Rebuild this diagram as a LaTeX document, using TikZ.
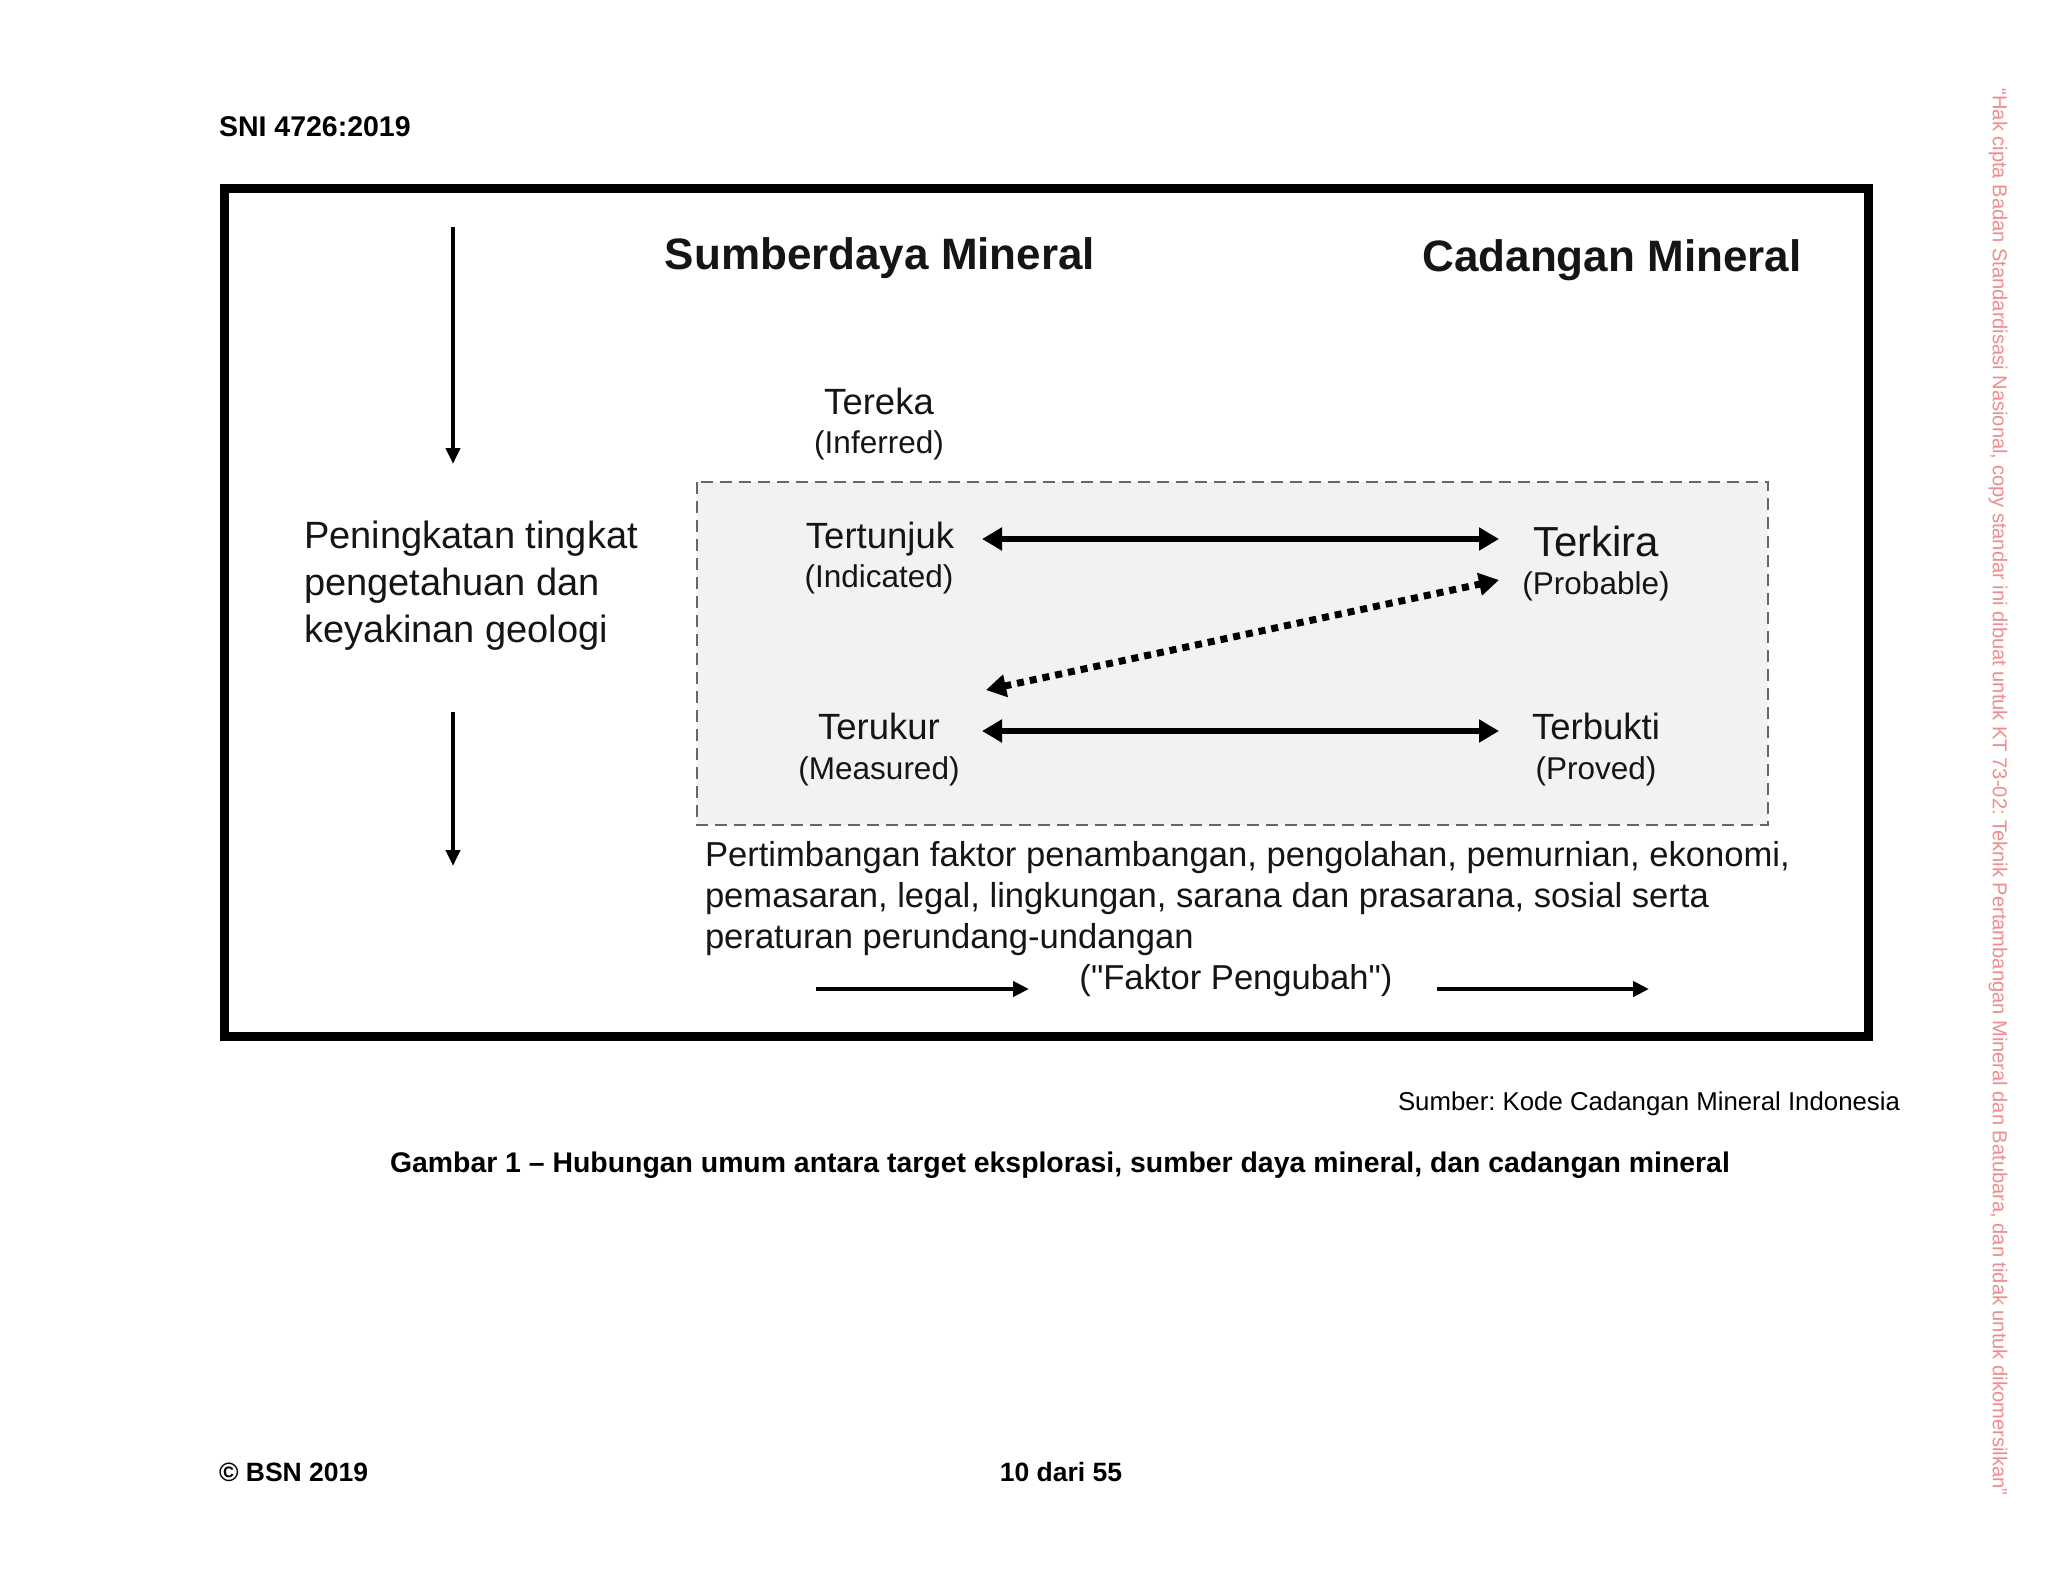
\documentclass[tikz,border=0pt]{standalone}
\usepackage{fontspec}
\setmainfont{Liberation Sans}
\newfontfamily\straightq{Liberation Sans}[Ligatures=TeXOff]
\usetikzlibrary{arrows.meta}
\frenchspacing
\definecolor{boxfill}{HTML}{F2F2F2}
\definecolor{boxline}{HTML}{666666}
\definecolor{wmark}{HTML}{F08C8C}
\definecolor{ink}{HTML}{151515}
\newcommand{\fs}[2]{\fontsize{#1}{#2}\selectfont}
\tikzset{
  txtbox/.style={inner sep=0pt,outer sep=0pt,text=ink},
  hdrtxt/.style={txtbox,font=\fs{26.5}{32}\bfseries,text=black},
  titletxt/.style={txtbox,font=\fs{44}{52}\bfseries},
  nametxt/.style={txtbox,font=\fs{36.5}{44}},
  subtxt/.style={txtbox,font=\fs{31.5}{38}},
  bodytxt/.style={txtbox,font=\fs{34.6}{41},align=left},
  vertarrow/.style={line width=4pt,-{Triangle[length=16pt,width=14pt]}},
  dblarrow/.style={line width=6.5pt,{Triangle[length=20pt,width=22pt]}-{Triangle[length=20pt,width=22pt]}},
  dotarrow/.style={line width=7pt,dash pattern=on 7pt off 6pt,{Triangle[length=20pt,width=22pt]}-{Triangle[length=20pt,width=22pt]}},
  sidearrow/.style={line width=4pt,-{Triangle[length=16pt,width=15pt]}}
}
\begin{document}
\begin{tikzpicture}[x=1pt,y=-1pt]
\useasboundingbox (0,0) rectangle (2048,1582);
\fill[white] (0,0) rectangle (2048,1582);

% header
\node[hdrtxt,font=\fs{28.5}{34}\bfseries,anchor=base west] (sni) at (219,136) {SNI 4726:2019};

% frame
\draw[line width=9pt] (224.5,188.5) rectangle (1868.5,1036.5);

% dashed grey region
\draw[boxline,fill=boxfill,line width=2pt,dash pattern=on 12pt off 7pt] (697,482) rectangle (1768,825);

% headings
\node[titletxt,anchor=base] (sdm) at (880,269) {Sumberdaya Mineral};
\node[titletxt,anchor=base] (cdm) at (1612,271) {Cadangan Mineral};

% left column
\coordinate (v1a) at (453,227);
\coordinate (v1b) at (453,464);
\coordinate (v2a) at (453,712);
\coordinate (v2b) at (453,866);
\draw[vertarrow] (v1a) -- (v1b);
\draw[vertarrow] (v2a) -- (v2b);
\node[txtbox,font=\fs{38}{47},align=left,anchor=north west] (pen) at (304,521)
  {Peningkatan tingkat\\pengetahuan dan\\keyakinan geologi};

% categories
\node[nametxt,anchor=base] (tereka) at (879,414) {Tereka};
\node[subtxt,anchor=base] (inf) at (879,453) {(Inferred)};
\node[nametxt,anchor=base] (tertunjuk) at (880,548) {Tertunjuk};
\node[subtxt,anchor=base] (ind) at (879,587) {(Indicated)};
\node[nametxt,anchor=base] (terukur) at (879,739) {Terukur};
\node[subtxt,anchor=base] (mea) at (879,779) {(Measured)};
\node[txtbox,font=\fs{42}{50},anchor=base] (terkira) at (1596,556) {Terkira};
\node[subtxt,anchor=base] (pro) at (1596,594) {(Probable)};
\node[nametxt,anchor=base] (terbukti) at (1596,739) {Terbukti};
\node[subtxt,anchor=base] (prv) at (1596,779) {(Proved)};

% connectors
\coordinate (ia) at (982,539);
\coordinate (pa) at (1499,539);
\coordinate (ma) at (982,731);
\coordinate (ba) at (1499,731);
\coordinate (da) at (986,690);
\coordinate (db) at (1499,580);
\draw[dblarrow] (ia) -- (pa);
\draw[dblarrow] (ma) -- (ba);
\draw[dotarrow] (da) -- (db);

% modifying factors
\node[bodytxt,anchor=north west] (fak) at (705,841)
  {Pertimbangan faktor penambangan, pengolahan, pemurnian, ekonomi,\\
   pemasaran, legal, lingkungan, sarana dan prasarana, sosial serta\\
   peraturan perundang-undangan};
\node[txtbox,font=\fs{34.6}{41}\straightq,anchor=base] (peng) at (1236,989) {("Faktor Pengubah")};
\coordinate (f1a) at (816,989);
\coordinate (f1b) at (1029,989);
\coordinate (f2a) at (1437,989);
\coordinate (f2b) at (1649,989);
\draw[sidearrow] (f1a) -- (f1b);
\draw[sidearrow] (f2a) -- (f2b);

% source and caption
\node[txtbox,font=\fs{25.8}{31},anchor=base east,text=black] (src) at (1900,1110) {Sumber: Kode Cadangan Mineral Indonesia};
\node[hdrtxt,font=\fs{28.4}{34}\bfseries,anchor=base] (cap) at (1060,1172) {Gambar 1 -- Hubungan umum antara target eksplorasi, sumber daya mineral, dan cadangan mineral};

% footer
\node[hdrtxt,anchor=base west] (bsn) at (219,1481) {© BSN 2019};
\node[hdrtxt,anchor=base] (pg) at (1061,1481) {10 dari 55};

% watermark
\node[txtbox,text=wmark,font=\fs{20.1}{24},rotate=-90,anchor=center] (wm) at (1998,792)
  {“Hak cipta Badan Standardisasi Nasional, copy standar ini dibuat untuk KT 73-02: Teknik Pertambangan Mineral dan Batubara, dan tidak untuk dikomersilkan”};
\end{tikzpicture}
\end{document}
